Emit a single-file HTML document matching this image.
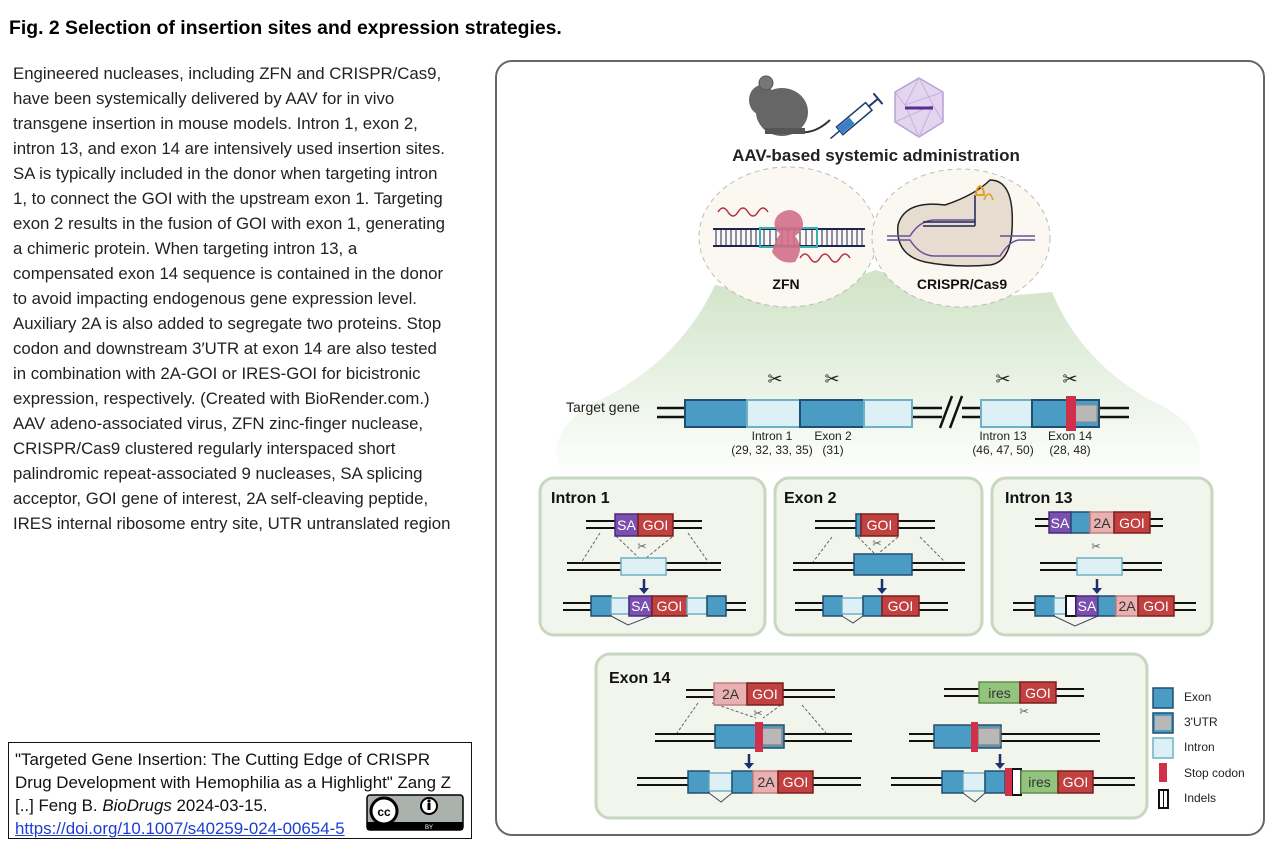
<!DOCTYPE html>
<html><head><meta charset="utf-8"><style>
html,body{margin:0;padding:0;background:#fff;width:1280px;height:853px;overflow:hidden;font-family:"Liberation Sans",Arial,sans-serif}
.title{position:absolute;left:9px;top:17px;font-size:19.4px;font-weight:bold;color:#000;white-space:nowrap}
.para{position:absolute;left:13px;top:61px;font-size:16.8px;line-height:25px;color:#222;white-space:nowrap}
.cite{position:absolute;left:8px;top:742px;width:464px;height:97px;border:1.5px solid #111;box-sizing:border-box}
.cite div{position:absolute;left:6px;font-size:16.9px;color:#111;white-space:nowrap}
svg{position:absolute;left:0;top:0}
</style></head><body>
<div class="title">Fig. 2 Selection of insertion sites and expression strategies.</div>
<div class="para">Engineered nucleases, including ZFN and CRISPR/Cas9,<br>have been systemically delivered by AAV for in vivo<br>transgene insertion in mouse models. Intron 1, exon 2,<br>intron 13, and exon 14 are intensively used insertion sites.<br>SA is typically included in the donor when targeting intron<br>1, to connect the GOI with the upstream exon 1. Targeting<br>exon 2 results in the fusion of GOI with exon 1, generating<br>a chimeric protein. When targeting intron 13, a<br>compensated exon 14 sequence is contained in the donor<br>to avoid impacting endogenous gene expression level.<br>Auxiliary 2A is also added to segregate two proteins. Stop<br>codon and downstream 3′UTR at exon 14 are also tested<br>in combination with 2A-GOI or IRES-GOI for bicistronic<br>expression, respectively. (Created with BioRender.com.)<br>AAV adeno-associated virus, ZFN zinc-finger nuclease,<br>CRISPR/Cas9 clustered regularly interspaced short<br>palindromic repeat-associated 9 nucleases, SA splicing<br>acceptor, GOI gene of interest, 2A self-cleaving peptide,<br>IRES internal ribosome entry site, UTR untranslated region</div>
<div class="cite">
<div style="top:7px">"Targeted Gene Insertion: The Cutting Edge of CRISPR</div>
<div style="top:30px">Drug Development with Hemophilia as a Highlight" Zang Z</div>
<div style="top:53px">[..] Feng B. <i>BioDrugs</i> 2024-03-15.</div>
<div style="top:76px;color:#1a3fd0;text-decoration:underline">https://doi.org/10.1007/s40259-024-00654-5</div>
</div>
<svg width="1280" height="853" viewBox="0 0 1280 853" font-family="Liberation Sans, Arial, sans-serif">
<defs>
<linearGradient id="mt" x1="0" y1="0" x2="0" y2="1"><stop offset="0" stop-color="#cfe3c6"/><stop offset="1" stop-color="#ffffff"/></linearGradient>
</defs>
<!-- CC badge -->
<rect x="367" y="795" width="96" height="35" rx="3" fill="#aab2ab" stroke="#000" stroke-width="1.5"/>
<rect x="367" y="822" width="96" height="8" fill="#000"/>
<circle cx="384" cy="811" r="13" fill="#fff" stroke="#000" stroke-width="3"/>
<text x="384" y="816" font-size="12" font-weight="bold" text-anchor="middle">cc</text>
<circle cx="429" cy="806" r="8" fill="#fff" stroke="#000" stroke-width="2"/>
<rect x="427.5" y="803" width="3" height="7" fill="#000"/><circle cx="429" cy="801" r="1.6" fill="#000"/>
<text x="429" y="829" font-size="6" fill="#fff" text-anchor="middle">BY</text>

<!-- frame -->
<rect x="496" y="61" width="768" height="774" rx="16" fill="#fff" stroke="#666" stroke-width="2"/>

<!-- mountain -->
<path d="M715,285 Q680,360 600,400 Q560,420 556,450 L560,478 L1200,478 L1200,450 Q1195,420 1150,400 Q1080,360 1052,292 L962,300 L876,270 L786,300 Z" fill="url(#mt)"/>

<!-- mouse -->
<ellipse cx="782" cy="112" rx="26" ry="24" fill="#666"/>
<ellipse cx="762" cy="100" rx="13" ry="15" fill="#666"/>
<circle cx="766" cy="83" r="7" fill="#777" stroke="#555"/>
<path d="M800,132 Q815,134 830,120" stroke="#333" stroke-width="2" fill="none"/>
<rect x="765" y="128" width="40" height="6" fill="#555"/>
<!-- syringe -->
<g transform="translate(855,118) rotate(-40)">
<rect x="-20" y="-5" width="38" height="10" fill="#fff" stroke="#1e3a6e" stroke-width="1.5"/>
<rect x="-20" y="-4" width="16" height="8" fill="#3b7fc4"/>
<line x1="-32" y1="0" x2="-20" y2="0" stroke="#1e3a6e" stroke-width="1.5"/>
<line x1="18" y1="0" x2="30" y2="0" stroke="#1e3a6e" stroke-width="2"/>
<line x1="30" y1="-7" x2="30" y2="7" stroke="#1e3a6e" stroke-width="2"/>
</g>
<!-- capsid -->
<polygon points="919,78 943,92 943,122 919,137 895,122 895,92" fill="#e3d4ef" stroke="#b9a0d2" stroke-width="1.5"/>
<path d="M919,78 L905,105 L919,137 L933,105 Z M895,92 L905,105 L943,92 M895,122 L933,105 L943,122" stroke="#c7b2de" fill="none"/>
<line x1="905" y1="108" x2="933" y2="108" stroke="#5a2e8e" stroke-width="3"/>

<text x="876" y="161" font-size="17" font-weight="bold" text-anchor="middle" fill="#222">AAV-based systemic administration</text>

<!-- circles -->
<ellipse cx="788" cy="237" rx="89" ry="70" fill="#faf8f1" stroke="#bbb" stroke-dasharray="5,4"/>
<ellipse cx="961" cy="238" rx="89" ry="69" fill="#faf8f1" stroke="#bbb" stroke-dasharray="5,4"/>
<!-- ZFN DNA -->
<line x1="713" y1="229" x2="865" y2="229" stroke="#1d2555" stroke-width="2"/>
<line x1="713" y1="246" x2="865" y2="246" stroke="#1d2555" stroke-width="2"/>
<rect x="760" y="228" width="57" height="19" fill="none" stroke="#3aaeb0" stroke-width="2"/>
<path d="M716,229 V246 M721,229 V246 M726,229 V246 M731,229 V246 M736,229 V246 M741,229 V246 M746,229 V246 M751,229 V246 M756,229 V246 M764,229 V246 M770,229 V246 M776,229 V246 M782,229 V246 M788,229 V246 M794,229 V246 M800,229 V246 M806,229 V246 M812,229 V246 M822,229 V246 M827,229 V246 M832,229 V246 M837,229 V246 M842,229 V246 M847,229 V246 M852,229 V246 M857,229 V246 M862,229 V246" stroke="#1d2555" stroke-width="1"/>
<path d="M778,215 Q790,205 800,215 Q808,228 795,236 Q805,248 795,262 Q780,265 772,252 Q775,240 780,234 Q770,225 778,215 Z" fill="#d36f88" opacity="0.9"/>
<path d="M718,212 q5,-8 10,0 q5,8 10,0 q5,-8 10,0 q5,8 10,0 q5,-8 10,0" stroke="#b33040" stroke-width="1.5" fill="none"/>
<path d="M800,258 q5,-8 10,0 q5,8 10,0 q5,-8 10,0 q5,8 10,0 q5,-8 10,0" stroke="#b33040" stroke-width="1.5" fill="none"/>
<text x="786" y="289" font-size="14" font-weight="bold" text-anchor="middle" fill="#111">ZFN</text>
<!-- CRISPR -->
<path d="M898,225 Q905,200 945,205 Q975,195 990,180 Q1015,180 1012,230 Q1010,262 990,265 Q955,268 925,262 Q895,255 898,225 Z" fill="#e6dccf" stroke="#222" stroke-width="1.5"/>
<path d="M887,236 H910 Q920,220 935,220 H975 M887,240 H910 Q920,256 935,256 H1000 Q1010,240 1020,240 H1035 M1000,236 Q1010,236 1035,236" stroke="#6a4f9e" stroke-width="1.5" fill="none"/>
<path d="M923,222 H975 M923,226 H975" stroke="#1d2555" stroke-width="1.5"/>
<path d="M975,226 V195" stroke="#1d2555" stroke-width="1.5"/>
<path d="M976,195 Q976,188 980,186 Q984,188 984,195 Z" fill="none" stroke="#e0a020" stroke-width="2"/>
<path d="M984,200 q5,-12 9,0" stroke="#e0a020" stroke-width="1.5" fill="none"/>
<text x="962" y="289" font-size="14" font-weight="bold" text-anchor="middle" fill="#111">CRISPR/Cas9</text>

<!-- target gene row -->
<text x="566" y="412" font-size="14" fill="#222">Target gene</text>
<g stroke="#111" stroke-width="2.5">
<line x1="657" y1="408" x2="942" y2="408"/><line x1="657" y1="417" x2="942" y2="417"/>
<line x1="962" y1="408" x2="1129" y2="408"/><line x1="962" y1="417" x2="1129" y2="417"/>
<line x1="940" y1="428" x2="952" y2="396"/><line x1="950" y1="428" x2="962" y2="396"/>
</g>
<rect x="685" y="400" width="62" height="27" fill="#4a9cc4" stroke="#1f4f70" stroke-width="2"/>
<rect x="747" y="400" width="53" height="27" fill="#dcf0f5" stroke="#6fb0c4" stroke-width="2"/>
<rect x="800" y="400" width="64" height="27" fill="#4a9cc4" stroke="#1f4f70" stroke-width="2"/>
<rect x="864" y="400" width="48" height="27" fill="#dcf0f5" stroke="#6fb0c4" stroke-width="2"/>
<rect x="981" y="400" width="51" height="27" fill="#dcf0f5" stroke="#6fb0c4" stroke-width="2"/>
<rect x="1032" y="400" width="67" height="27" fill="#4a9cc4" stroke="#1f4f70" stroke-width="2"/>
<rect x="1075" y="405" width="22" height="17" fill="#b8b8b8" stroke="#888"/>
<rect x="1066" y="396" width="10" height="35" fill="#d0304a"/>
<g font-size="18" text-anchor="middle" fill="#222"><text x="775" y="385">✂</text><text x="832" y="385">✂</text><text x="1003" y="385">✂</text><text x="1070" y="385">✂</text></g>
<g font-size="12" text-anchor="middle" fill="#222">
<text x="772" y="440">Intron 1</text><text x="772" y="454">(29, 32, 33, 35)</text>
<text x="833" y="440">Exon 2</text><text x="833" y="454">(31)</text>
<text x="1003" y="440">Intron 13</text><text x="1003" y="454">(46, 47, 50)</text>
<text x="1070" y="440">Exon 14</text><text x="1070" y="454">(28, 48)</text>
</g>

<!-- panels -->
<g fill="#f1f5ec" stroke="#c8d8c0" stroke-width="3">
<rect x="540" y="478" width="225" height="157" rx="14"/>
<rect x="775" y="478" width="207" height="157" rx="14"/>
<rect x="992" y="478" width="220" height="157" rx="14"/>
<rect x="596" y="654" width="551" height="164" rx="14"/>
</g>
<g font-size="16" font-weight="bold" fill="#111">
<text x="551" y="503">Intron 1</text><text x="784" y="503">Exon 2</text><text x="1005" y="503">Intron 13</text><text x="609" y="683">Exon 14</text>
</g>

<g stroke="#111" stroke-width="2">
<line x1="586" y1="521" x2="702" y2="521"/><line x1="586" y1="528" x2="702" y2="528"/>
<line x1="567" y1="563" x2="721" y2="563"/><line x1="567" y1="570" x2="721" y2="570"/>
<line x1="563" y1="603" x2="746" y2="603"/><line x1="563" y1="610" x2="746" y2="610"/>
<line x1="815" y1="521" x2="935" y2="521"/><line x1="815" y1="528" x2="935" y2="528"/>
<line x1="793" y1="563" x2="965" y2="563"/><line x1="793" y1="570" x2="965" y2="570"/>
<line x1="795" y1="603" x2="948" y2="603"/><line x1="795" y1="610" x2="948" y2="610"/>
<line x1="1035" y1="519" x2="1163" y2="519"/><line x1="1035" y1="526" x2="1163" y2="526"/>
<line x1="1040" y1="563" x2="1162" y2="563"/><line x1="1040" y1="570" x2="1162" y2="570"/>
<line x1="1013" y1="603" x2="1196" y2="603"/><line x1="1013" y1="610" x2="1196" y2="610"/>
<line x1="686" y1="690" x2="835" y2="690"/><line x1="686" y1="697" x2="835" y2="697"/>
<line x1="655" y1="734" x2="852" y2="734"/><line x1="655" y1="741" x2="852" y2="741"/>
<line x1="637" y1="778" x2="861" y2="778"/><line x1="637" y1="785" x2="861" y2="785"/>
<line x1="944" y1="689" x2="1084" y2="689"/><line x1="944" y1="696" x2="1084" y2="696"/>
<line x1="909" y1="734" x2="1100" y2="734"/><line x1="909" y1="741" x2="1100" y2="741"/>
<line x1="891" y1="778" x2="1135" y2="778"/><line x1="891" y1="785" x2="1135" y2="785"/>
</g>

<g stroke="#666" stroke-width="1" stroke-dasharray="3,2" fill="none">
<path d="M600,533 L581,563 M616,536 L639,558 M672,537 L646,558 M688,533 L709,563"/>
<path d="M832,537 L813,562 M858,537 L874,553 M898,537 L879,553 M920,537 L945,562"/>
<path d="M698,703 L677,733 M712,703 L756,718 M781,705 L763,718 M802,705 L826,733"/>
</g>
<g stroke="#445" stroke-width="1" fill="none">
<path d="M611,616 L628,625 L651,616"/><path d="M842,616 L853,623 L863,616"/><path d="M1054,616 L1075,626 L1098,616"/>
<path d="M709,793 L721,802 L732,793"/><path d="M963,793 L975,802 L985,793"/>
</g>
<g font-size="11" text-anchor="middle" fill="#555"><text x="642" y="550">✂</text><text x="877" y="547">✂</text><text x="1096" y="550">✂</text><text x="758" y="717">✂</text><text x="1024" y="715">✂</text></g>
<g stroke="#1e2f6e" stroke-width="2.5" fill="#1e2f6e">
<line x1="644" y1="579" x2="644" y2="589"/><polygon points="639,588 649,588 644,594" stroke="none"/>
<line x1="882" y1="579" x2="882" y2="589"/><polygon points="877,588 887,588 882,594" stroke="none"/>
<line x1="1097" y1="579" x2="1097" y2="589"/><polygon points="1092,588 1102,588 1097,594" stroke="none"/>
<line x1="749" y1="754" x2="749" y2="764"/><polygon points="744,763 754,763 749,769" stroke="none"/>
<line x1="1000" y1="754" x2="1000" y2="764"/><polygon points="995,763 1005,763 1000,769" stroke="none"/>
</g>

<g stroke-width="1.5">
<rect x="615" y="514" width="23" height="22" fill="#7b4fae" stroke="#4b2a7e"/>
<rect x="638" y="514" width="35" height="22" fill="#c0413f" stroke="#7a1f1f"/>
<rect x="621" y="558" width="45" height="17" fill="#dcf0f5" stroke="#6fb0c4"/>
<rect x="591" y="596" width="20" height="20" fill="#4a9cc4" stroke="#1f4f70"/>
<rect x="611" y="598" width="18" height="16" fill="#dcf0f5" stroke="#6fb0c4"/>
<rect x="629" y="596" width="23" height="20" fill="#7b4fae" stroke="#4b2a7e"/>
<rect x="652" y="596" width="35" height="20" fill="#c0413f" stroke="#7a1f1f"/>
<rect x="687" y="598" width="20" height="16" fill="#dcf0f5" stroke="#6fb0c4"/>
<rect x="707" y="596" width="19" height="20" fill="#4a9cc4" stroke="#1f4f70"/>
<rect x="856" y="514" width="5" height="22" fill="#4a9cc4" stroke="#1f4f70"/>
<rect x="861" y="514" width="37" height="22" fill="#c0413f" stroke="#7a1f1f"/>
<rect x="854" y="554" width="58" height="21" fill="#4a9cc4" stroke="#1f4f70"/>
<rect x="823" y="596" width="19" height="20" fill="#4a9cc4" stroke="#1f4f70"/>
<rect x="842" y="598" width="21" height="16" fill="#dcf0f5" stroke="#6fb0c4"/>
<rect x="863" y="596" width="19" height="20" fill="#4a9cc4" stroke="#1f4f70"/>
<rect x="882" y="596" width="37" height="20" fill="#c0413f" stroke="#7a1f1f"/>
<rect x="1049" y="512" width="22" height="21" fill="#7b4fae" stroke="#4b2a7e"/>
<rect x="1071" y="512" width="19" height="21" fill="#4a9cc4" stroke="#1f4f70"/>
<rect x="1090" y="512" width="24" height="21" fill="#e8b0b0" stroke="#c08080"/>
<rect x="1114" y="512" width="36" height="21" fill="#c0413f" stroke="#7a1f1f"/>
<rect x="1077" y="558" width="45" height="17" fill="#dcf0f5" stroke="#6fb0c4"/>
<rect x="1035" y="596" width="19" height="20" fill="#4a9cc4" stroke="#1f4f70"/>
<rect x="1054" y="598" width="12" height="16" fill="#dcf0f5" stroke="#6fb0c4"/>
<rect x="1066" y="596" width="10" height="20" fill="#fff" stroke="#111" stroke-width="2"/>
<rect x="1076" y="596" width="22" height="20" fill="#7b4fae" stroke="#4b2a7e"/>
<rect x="1098" y="596" width="18" height="20" fill="#4a9cc4" stroke="#1f4f70"/>
<rect x="1116" y="596" width="22" height="20" fill="#e8b0b0" stroke="#c08080"/>
<rect x="1138" y="596" width="36" height="20" fill="#c0413f" stroke="#7a1f1f"/>
<rect x="714" y="683" width="33" height="22" fill="#e8b0b0" stroke="#c08080"/>
<rect x="747" y="683" width="36" height="22" fill="#c0413f" stroke="#7a1f1f"/>
<rect x="715" y="725" width="69" height="23" fill="#4a9cc4" stroke="#1f4f70"/>
<rect x="760" y="728" width="22" height="17" fill="#b8b8b8" stroke="#888"/>
<rect x="755" y="722" width="8" height="30" fill="#d0304a" stroke="none"/>
<rect x="688" y="771" width="21" height="22" fill="#4a9cc4" stroke="#1f4f70"/>
<rect x="709" y="773" width="23" height="18" fill="#dcf0f5" stroke="#6fb0c4"/>
<rect x="732" y="771" width="21" height="22" fill="#4a9cc4" stroke="#1f4f70"/>
<rect x="753" y="771" width="25" height="22" fill="#e8b0b0" stroke="#c08080"/>
<rect x="778" y="771" width="35" height="22" fill="#c0413f" stroke="#7a1f1f"/>
<rect x="979" y="682" width="41" height="21" fill="#93c47d" stroke="#5f8f4d"/>
<rect x="1020" y="682" width="36" height="21" fill="#c0413f" stroke="#7a1f1f"/>
<rect x="934" y="725" width="67" height="23" fill="#4a9cc4" stroke="#1f4f70"/>
<rect x="978" y="728" width="22" height="17" fill="#b8b8b8" stroke="#888"/>
<rect x="971" y="722" width="7" height="30" fill="#d0304a" stroke="none"/>
<rect x="942" y="771" width="21" height="22" fill="#4a9cc4" stroke="#1f4f70"/>
<rect x="963" y="773" width="22" height="18" fill="#dcf0f5" stroke="#6fb0c4"/>
<rect x="985" y="771" width="20" height="22" fill="#4a9cc4" stroke="#1f4f70"/>
<rect x="1012" y="769" width="9" height="26" fill="#fff" stroke="#111" stroke-width="2"/>
<rect x="1005" y="768" width="7" height="28" fill="#d0304a" stroke="none"/>
<rect x="1021" y="771" width="37" height="22" fill="#93c47d" stroke="#5f8f4d"/>
<rect x="1058" y="771" width="35" height="22" fill="#c0413f" stroke="#7a1f1f"/>
</g>
<g font-size="14" text-anchor="middle" fill="#fff">
<text x="626.5" y="530">SA</text><text x="655.5" y="530">GOI</text>
<text x="640.5" y="611">SA</text><text x="669.5" y="611">GOI</text>
<text x="879.5" y="530">GOI</text><text x="900.5" y="611">GOI</text>
<text x="1060" y="528">SA</text><text x="1132" y="528">GOI</text>
<text x="1087" y="611">SA</text><text x="1156" y="611">GOI</text>
<text x="765" y="699">GOI</text><text x="795.5" y="787">GOI</text>
<text x="1038" y="698">GOI</text><text x="1075.5" y="787">GOI</text>
</g>
<g font-size="14" text-anchor="middle" fill="#333">
<text x="1102" y="528">2A</text><text x="1127" y="611">2A</text>
<text x="730.5" y="699">2A</text><text x="766" y="787">2A</text>
<text x="999.5" y="698">ires</text><text x="1039.5" y="787">ires</text>
</g>

<rect x="1153" y="688" width="20" height="20" fill="#4a9cc4" stroke="#1f4f70" stroke-width="1.5"/>
<rect x="1153" y="713" width="20" height="20" fill="#4a9cc4" stroke="#1f4f70" stroke-width="1.5"/>
<rect x="1155" y="716" width="16" height="14" fill="#b8b8b8"/>
<rect x="1153" y="738" width="20" height="20" fill="#dcf0f5" stroke="#6fb0c4" stroke-width="1.5"/>
<rect x="1159" y="763" width="8" height="19" fill="#d0304a"/>
<rect x="1159" y="790" width="9" height="18" fill="#fff" stroke="#111" stroke-width="2"/>
<line x1="1163.5" y1="790" x2="1163.5" y2="808" stroke="#111"/>
<g font-size="12" fill="#222">
<text x="1184" y="701">Exon</text><text x="1184" y="726">3'UTR</text><text x="1184" y="751">Intron</text><text x="1184" y="777">Stop codon</text><text x="1184" y="802">Indels</text>
</g>
</svg>
</body></html>
